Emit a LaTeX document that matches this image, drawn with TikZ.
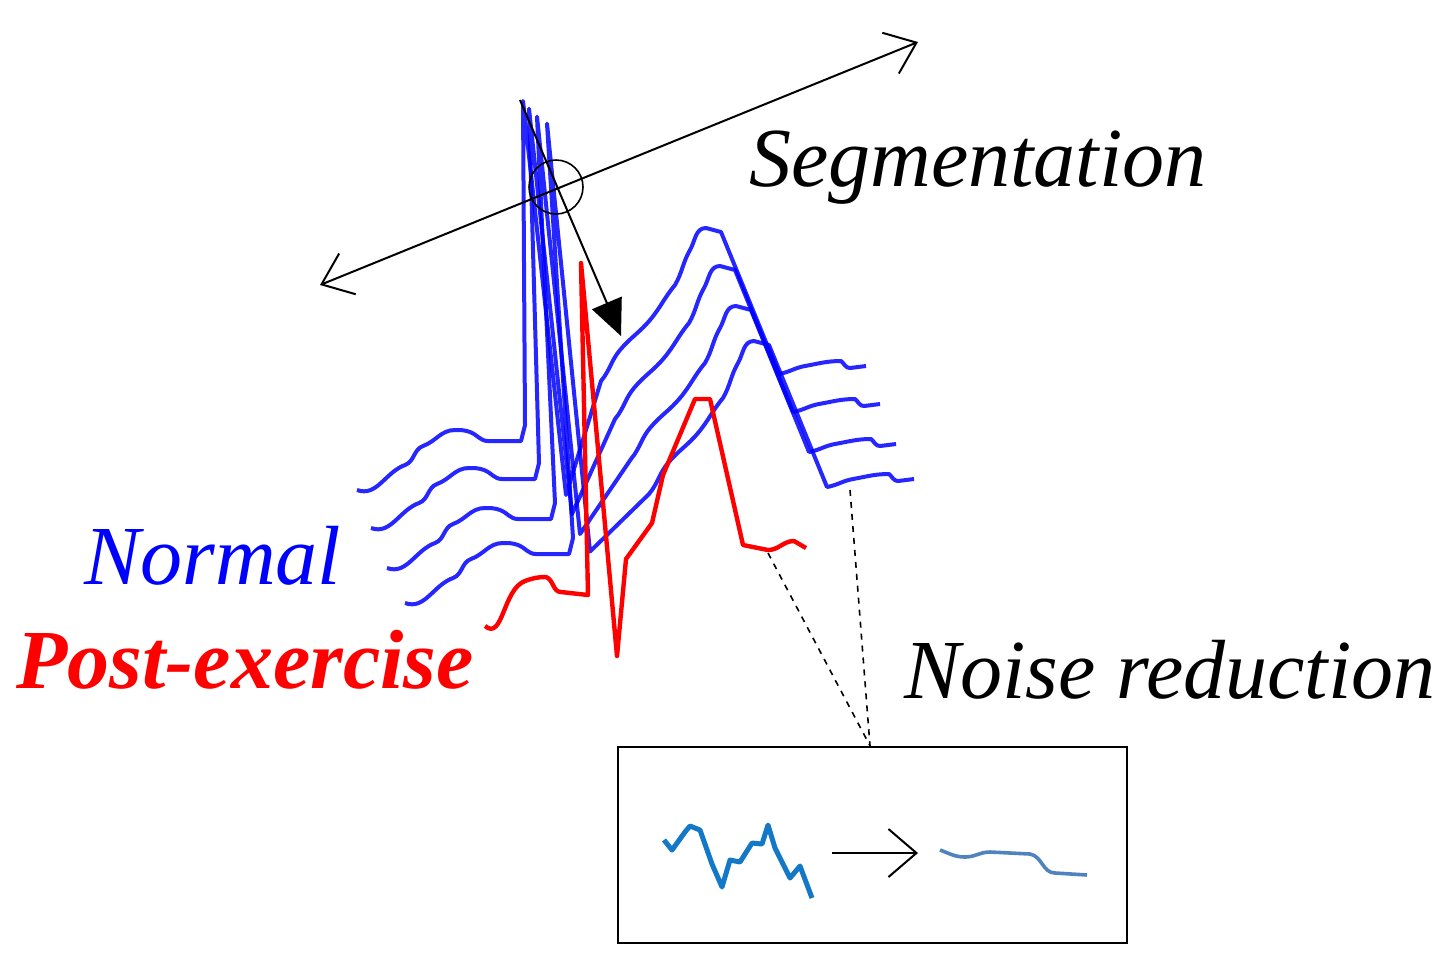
\documentclass[tikz,border=0pt]{standalone}
\usepackage{fontspec}
\setmainfont{Liberation Serif}
\usetikzlibrary{arrows.meta,calc}
\newcommand\bluetrace[3]{%
\draw[bluew] ({357+#1},{490+#2}) to[out=-20,in=200] ({405+#1},{465+#2}) to[out=20,in=200] ({423+#1},{446+#2})
 to[out=20,in=180] ({455+#1},{430+#2}) to[out=0,in=160] ({470+#1},{432+#2}) to[out=-20,in=180] ({488+#1},{441+#2})
 -- ({521+#1},{441+#2}) -- ({525+#1},{425+#2}) -- ({523+#3},{101+#2/5}) -- ({566+#3},{495+#2/2}) -- ({601+#1},{381+#2})
 to[out=50,in=230] ({620+#1},{350+#2}) to[out=50,in=230] ({650+#1},{320+#2}) to[out=50,in=230] ({675+#1},{285+#2})
 to[out=60,in=240] ({690+#1},{250+#2}) to[out=60,in=180] ({706+#1},{228+#2}) -- ({721+#1},{232+#2})
 -- ({779+#1},{374+#2}) to[out=10,in=190] ({805+#1},{366+#2}) to[out=10,in=180] ({841+#1},{361+#2})
 to[out=-40,in=180] ({850+#1},{368+#2}) -- ({866+#1},{366+#2});}
\begin{document}
\begin{tikzpicture}[x=0.5pt,y=-0.5pt,
 bluew/.style={blue,line width=2pt,line join=round,opacity=0.85},
 redw/.style={red,line width=2.2pt,line join=round},
 lbl/.style={font=\fontsize{42}{44}\selectfont\itshape,inner sep=0pt}]
\useasboundingbox (0,0) rectangle (1449,966);
\bluetrace{0}{0}{0}
\bluetrace{14}{38}{6}
\bluetrace{30}{78}{14}
\bluetrace{48}{113}{24}
\draw[redw] (485,626) to[out=-40,in=200] (525,581) to[out=20,in=180] (546,577) to[out=-20,in=180] (561,592)
 -- (588,595) -- (581,263) -- (617,656) -- (626,559) -- (652,523) -- (663,475) -- (695,399) -- (710,399)
 -- (743,545) -- (768,550) to[out=0,in=180] (794,541) -- (806,548);
% segmentation axis
\coordinate (sL) at (320,285); \coordinate (sR) at (918,42);
\draw[line width=1pt,{Straight Barb[length=14pt,width=22pt]}-{Straight Barb[length=14pt,width=22pt]}] (sL) -- (sR);
\node[circle,draw,line width=0.8pt,minimum size=27pt,inner sep=0pt] (c) at (556,187) {};
\coordinate (a1) at (520,100); \coordinate (a2) at (621,336);
\draw[line width=1pt,-{Triangle[length=18pt,width=16pt]}] (a1) -- (a2);
\node[lbl,anchor=center] (seg) at (978,168) {Segmentation};
\node[lbl,anchor=center,text=blue] (nor) at (213,556) {Normal};
\node[lbl,anchor=center,text=red,font=\fontsize{42}{44}\selectfont\bfseries\itshape] (post) at (245,660) {Post-exercise};
\node[lbl,anchor=center] (noise) at (1170,670) {Noise reduction};
% box
\node[draw,line width=1.2pt,minimum width=254.5pt,minimum height=98pt,inner sep=0pt] (box) at (872.5,845) {};
\coordinate (d1) at (850,490); \coordinate (d2) at (768,553);
\draw[dashed,line width=0.8pt] (d1) -- (box.north-|870,0);
\draw[line width=0.8pt,dash pattern=on 3pt off 3pt] (d2) -- (box.north-|870,0);
\definecolor{nb}{RGB}{20,120,200}\definecolor{sb}{RGB}{80,130,190}
\draw[nb,line width=2.5pt,line join=round] (664,840) -- (672,850) -- (685,832) -- (690,826) -- (700,830) -- (712,864) -- (722,887) -- (730,860) -- (740,862) -- (752,843) -- (762,844) -- (768,825) -- (775,848) -- (790,878) -- (800,866) -- (812,898);
\coordinate (r1) at (832,853); \coordinate (r2) at (918,853);
\draw[line width=1pt,-{Straight Barb[length=14pt,width=24pt]}] (r1) -- (r2);
\draw[sb,line width=1.8pt] (940,850) to[out=-20,in=180] (965,857) to[out=0,in=180] (990,852) -- (1030,854) to[out=-10,in=180] (1055,873) -- (1087,875);
\end{tikzpicture}
\end{document}
